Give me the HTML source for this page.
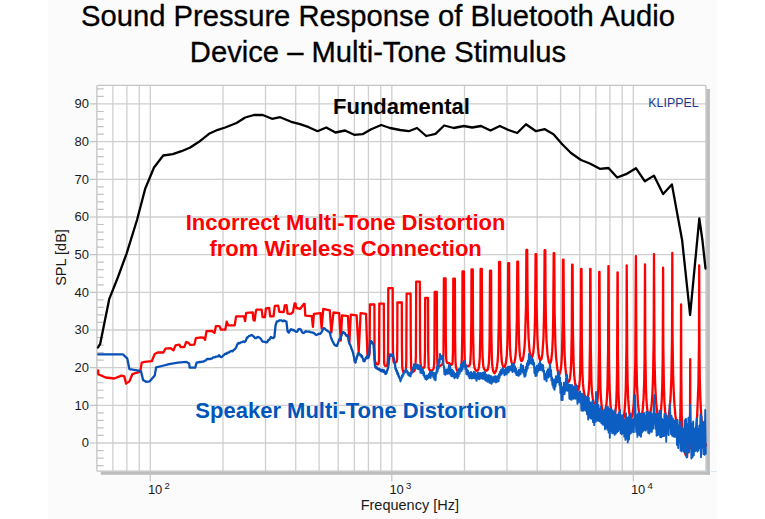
<!DOCTYPE html>
<html><head><meta charset="utf-8"><style>
html,body{margin:0;padding:0;background:#fff;width:765px;height:519px;overflow:hidden}
svg{display:block;font-family:"Liberation Sans",sans-serif}
</style></head><body>
<svg width="765" height="519" viewBox="0 0 765 519">
<rect x="48" y="0" width="669" height="519" fill="#fbfbfb"/><rect x="96.9" y="85.4" width="609.1" height="385.79999999999995" fill="#ffffff"/><rect x="706.3" y="89" width="3.6" height="385.8" fill="#bdbdbd"/><rect x="100.8" y="471.5" width="609.1" height="3.3" fill="#bdbdbd"/><path d="M711 471.5H717" stroke="#d5e6f5" stroke-width="1"/><path d="M96.9 443.00H706.0M96.9 405.33H706.0M96.9 367.66H706.0M96.9 329.99H706.0M96.9 292.32H706.0M96.9 254.65H706.0M96.9 216.98H706.0M96.9 179.31H706.0M96.9 141.64H706.0M96.9 103.97H706.0M112.89 85.4V471.2M126.90 85.4V471.2M139.25 85.4V471.2M150.30 85.4V471.2M223.00 85.4V471.2M265.52 85.4V471.2M295.70 85.4V471.2M319.10 85.4V471.2M338.22 85.4V471.2M354.39 85.4V471.2M368.40 85.4V471.2M380.75 85.4V471.2M391.80 85.4V471.2M464.50 85.4V471.2M507.02 85.4V471.2M537.20 85.4V471.2M560.60 85.4V471.2M579.72 85.4V471.2M595.89 85.4V471.2M609.90 85.4V471.2M622.25 85.4V471.2M633.30 85.4V471.2" stroke="#cfcfcf" stroke-width="1.3" fill="none"/><path d="M96.9 465.60H103.7M96.9 458.07H103.7M96.9 450.53H103.7M96.9 435.47H103.7M96.9 427.93H103.7M96.9 420.40H103.7M96.9 412.86H103.7M96.9 397.80H103.7M96.9 390.26H103.7M96.9 382.73H103.7M96.9 375.19H103.7M96.9 360.13H103.7M96.9 352.59H103.7M96.9 345.06H103.7M96.9 337.52H103.7M96.9 322.46H103.7M96.9 314.92H103.7M96.9 307.39H103.7M96.9 299.85H103.7M96.9 284.79H103.7M96.9 277.25H103.7M96.9 269.72H103.7M96.9 262.18H103.7M96.9 247.12H103.7M96.9 239.58H103.7M96.9 232.05H103.7M96.9 224.51H103.7M96.9 209.45H103.7M96.9 201.91H103.7M96.9 194.38H103.7M96.9 186.84H103.7M96.9 171.78H103.7M96.9 164.24H103.7M96.9 156.71H103.7M96.9 149.17H103.7M96.9 134.11H103.7M96.9 126.57H103.7M96.9 119.04H103.7M96.9 111.50H103.7M96.9 96.44H103.7M96.9 88.90H103.7" stroke="#c2c2c2" stroke-width="1.2" fill="none"/><path d="M90 443.00H96.9M90 405.33H96.9M90 367.66H96.9M90 329.99H96.9M90 292.32H96.9M90 254.65H96.9M90 216.98H96.9M90 179.31H96.9M90 141.64H96.9M90 103.97H96.9M150.30 471.2V481.5M391.80 471.2V481.5M633.30 471.2V481.5" stroke="#c2c2c2" stroke-width="1.2" fill="none"/><rect x="96.9" y="85.4" width="609.1" height="385.79999999999995" rx="1" stroke="#c4c4c4" stroke-width="1.3" fill="none"/><g fill="none" stroke-linejoin="round" stroke-linecap="round"><path d="M98.2 370.5 L98.3 374.2 L105.6 377.5 L114.2 378.5 L121.5 375.6 L124.3 376.4 L126.1 383.6 L129.4 381.4 L132.3 374.2 L140.2 371.7 L141.7 362.6 L144.6 361.9 L151.8 361.2 L154.7 354.0 L157.6 352.5 L163.4 352.5 L165.5 348.6 L170.6 348.2 L173.5 350.3 L175.6 345.3 L179.3 344.6 L180.7 347.2 L184.3 347.2 L186.2 342.0 L188.7 342.8 L190.1 344.9 L194.4 344.6 L195.9 338.1 L200.9 337.3 L203.6 337.6 L205.1 339.8 L206.5 331.1 L211.6 330.8 L214.5 332.9 L215.9 326.1 L219.5 326.1 L221.0 329.7 L225.3 329.7 L226.7 321.7 L228.2 325.3 L234.7 325.3 L236.1 316.4 L244.1 316.4 L245.1 321.0 L246.2 312.8 L252.7 312.3 L253.5 320.2 L254.7 320.6 L255.6 313.0 L256.4 309.6 L261.6 309.6 L262.6 317.0 L265.0 317.2 L265.9 308.4 L269.2 308.0 L270.2 316.4 L273.5 316.4 L274.8 306.0 L278.2 305.6 L279.3 311.8 L283.7 312.0 L284.8 305.3 L286.5 305.1 L287.6 313.6 L290.8 313.8 L293.0 312.0 L294.6 303.3 L295.4 303.3 L296.3 308.0 L300.2 308.8 L303.8 304.0 L304.6 304.0 L305.3 315.6 L311.8 316.1 L312.9 326.9 L313.9 313.9 L320.5 313.2 L321.6 328.4 L323.3 308.8 L329.8 310.3 L331.3 332.7 L333.5 312.5 L339.2 313.2 L340.7 340.6 L342.1 315.3 L347.9 316.1 L349.4 342.8 L350.8 314.6 L356.6 315.3 L358.7 352.2 L360.6 313.2 L366.0 313.9 L367.4 354.4 L367.4 354.7 L368.6 355.8 L369.1 355.9 L369.6 353.3 L369.9 304.3 L374.4 304.5 L374.5 347.7 L374.8 359.3 L375.1 361.7 L376.1 363.4 L376.9 364.1 L377.4 364.3 L378.1 364.3 L378.6 363.5 L379.0 359.9 L379.1 351.8 L379.3 303.6 L383.8 303.6 L384.1 361.9 L384.4 364.7 L385.0 365.8 L386.0 366.1 L386.8 365.5 L387.3 364.6 L387.8 360.3 L388.1 350.0 L388.3 288.2 L392.7 288.2 L392.9 344.6 L393.1 356.5 L393.4 361.0 L394.0 362.7 L394.8 362.8 L395.8 362.5 L396.5 361.8 L396.8 361.2 L397.1 358.9 L397.3 344.1 L397.4 302.3 L401.8 302.5 L401.9 346.2 L402.2 366.3 L402.6 369.7 L403.4 372.1 L403.6 372.4 L404.1 372.4 L404.9 372.2 L405.4 371.7 L405.8 370.5 L406.0 368.6 L406.3 360.7 L406.6 293.6 L410.6 293.6 L410.8 346.9 L411.1 367.1 L411.5 370.5 L412.1 371.9 L412.6 372.1 L413.1 371.9 L414.4 370.8 L415.1 368.8 L415.4 366.8 L415.9 356.2 L416.2 281.6 L419.8 281.6 L420.1 348.9 L420.4 361.5 L420.9 365.9 L421.3 366.8 L422.0 367.5 L423.5 368.0 L424.2 367.6 L424.6 365.9 L425.0 350.7 L425.2 298.0 L428.0 298.0 L428.2 351.1 L428.6 366.4 L428.8 368.4 L429.3 369.6 L430.1 370.4 L431.6 370.9 L433.1 369.7 L433.8 367.8 L434.2 363.1 L434.4 354.1 L434.7 292.0 L436.8 292.0 L437.0 348.8 L437.4 364.1 L437.7 366.0 L438.3 366.6 L439.5 366.3 L441.9 364.8 L442.6 363.7 L443.0 361.6 L443.5 353.2 L443.9 278.3 L445.6 278.3 L445.8 338.5 L446.2 358.8 L446.6 361.6 L447.1 362.8 L447.7 363.1 L449.0 363.0 L451.0 364.7 L451.8 364.8 L452.3 363.9 L452.6 361.9 L453.0 351.8 L453.3 278.7 L454.9 278.7 L455.1 340.2 L455.5 361.6 L455.9 366.6 L456.6 369.4 L457.9 371.7 L458.1 371.8 L459.1 371.1 L460.4 369.3 L461.0 367.5 L461.4 364.6 L461.8 359.5 L462.3 332.8 L462.5 271.5 L463.9 271.5 L464.2 332.6 L464.7 359.5 L465.1 363.7 L465.8 365.7 L466.5 366.2 L467.5 365.9 L468.5 366.2 L469.2 365.9 L469.9 364.7 L470.3 362.2 L470.9 350.3 L471.3 322.8 L471.5 269.3 L472.8 269.3 L473.0 329.6 L473.6 358.3 L474.0 364.6 L474.7 368.1 L475.4 369.7 L476.1 370.7 L476.6 371.0 L477.4 370.7 L478.4 369.3 L479.0 367.0 L479.8 357.6 L480.4 328.5 L480.6 269.0 L481.8 269.0 L482.2 341.6 L482.6 356.3 L483.2 365.2 L483.6 367.6 L484.2 369.2 L485.0 370.0 L486.2 370.5 L487.0 370.5 L487.7 369.5 L488.1 368.4 L488.8 363.7 L489.3 353.5 L489.6 338.3 L490.0 270.7 L491.1 270.7 L491.3 329.3 L491.8 356.9 L492.2 364.6 L492.8 369.3 L493.5 371.9 L494.3 373.0 L494.5 373.2 L494.8 373.0 L496.0 370.9 L496.9 366.9 L497.6 361.6 L498.1 353.9 L498.8 321.5 L499.1 261.8 L500.1 261.8 L500.6 332.3 L501.1 351.1 L501.8 361.6 L502.4 364.6 L503.1 366.4 L503.9 366.9 L504.6 366.5 L505.1 365.6 L505.9 362.5 L506.8 355.4 L507.4 343.1 L507.8 324.6 L508.2 263.2 L509.1 263.2 L509.4 316.7 L510.0 347.0 L510.5 355.6 L511.2 360.8 L511.6 362.5 L512.4 364.1 L512.9 364.3 L513.4 364.3 L514.4 362.6 L515.2 358.3 L515.8 352.8 L516.2 345.4 L516.9 317.9 L517.3 261.6 L518.1 261.6 L518.5 314.1 L519.0 340.3 L519.5 349.8 L520.0 355.9 L520.7 359.6 L521.2 360.9 L521.7 361.1 L522.2 360.5 L522.7 359.4 L523.5 356.2 L524.4 348.3 L525.1 337.7 L526.0 305.3 L526.4 249.8 L527.2 249.8 L527.5 293.1 L527.9 318.7 L528.6 338.5 L529.5 350.5 L530.6 356.3 L531.3 357.7 L531.8 357.9 L532.1 357.6 L533.2 353.1 L534.0 345.2 L534.6 333.0 L535.1 315.1 L535.6 254.1 L536.3 254.1 L536.6 305.1 L537.4 337.0 L537.9 346.9 L538.6 353.9 L539.4 358.5 L539.9 359.7 L540.2 360.0 L540.7 360.1 L541.2 359.4 L541.7 357.9 L542.4 353.4 L543.5 337.7 L544.2 306.6 L544.6 250.2 L545.3 250.2 L545.5 292.5 L545.9 321.3 L546.5 341.2 L547.5 354.2 L548.7 361.6 L549.4 363.2 L550.2 363.4 L550.9 362.0 L551.3 359.8 L552.2 351.4 L552.8 338.4 L553.2 318.6 L553.7 253.1 L554.3 253.1 L554.6 311.5 L555.4 344.3 L556.1 357.7 L557.3 368.5 L558.0 372.0 L559.0 373.8 L559.5 373.8 L560.0 373.0 L560.8 369.3 L561.5 362.7 L562.0 353.1 L562.7 320.7 L563.0 259.6 L563.5 259.6 L563.9 320.8 L564.6 354.7 L565.3 366.4 L566.3 376.3 L567.3 380.3 L568.3 381.9 L568.8 381.8 L569.3 381.0 L570.1 377.4 L570.7 371.1 L571.2 362.1 L571.8 329.8 L572.1 264.7 L572.6 264.7 L572.9 329.9 L573.6 363.9 L574.2 375.1 L575.0 382.4 L575.9 387.8 L576.7 389.7 L577.4 390.5 L577.9 390.4 L578.5 389.5 L579.2 386.0 L579.8 379.9 L580.2 370.0 L580.8 333.6 L581.1 268.9 L581.5 268.9 L581.8 339.3 L582.4 373.3 L583.0 383.9 L583.7 391.0 L584.8 396.4 L585.6 397.9 L586.3 398.6 L587.1 398.5 L587.6 397.7 L588.3 394.8 L588.9 389.0 L589.4 379.4 L590.0 340.9 L590.2 270.7 L590.2 269.0 L590.5 269.0 L590.8 347.3 L591.4 381.2 L591.9 391.3 L592.7 398.2 L593.7 402.6 L594.7 404.6 L595.4 405.3 L596.2 405.3 L596.6 404.5 L597.4 401.2 L598.0 394.7 L598.4 384.2 L599.0 349.6 L599.2 271.8 L599.5 271.8 L599.8 349.6 L600.4 386.3 L600.9 398.3 L601.7 406.1 L602.7 411.2 L603.4 412.9 L604.2 413.2 L604.9 412.4 L605.4 411.0 L606.3 406.0 L607.0 397.2 L607.5 385.2 L608.1 349.7 L608.4 266.1 L608.6 266.1 L609.0 363.4 L609.6 388.4 L610.5 405.1 L611.8 414.7 L612.8 417.6 L613.3 418.2 L613.8 418.2 L614.5 417.2 L615.2 413.9 L616.2 403.6 L616.7 389.1 L617.1 366.3 L617.5 272.5 L617.7 272.5 L617.9 349.1 L618.5 392.8 L619.1 405.8 L619.8 414.0 L620.6 419.5 L621.4 421.4 L622.1 421.8 L622.9 420.9 L623.6 418.4 L624.5 412.0 L625.2 402.4 L625.8 387.7 L626.5 344.9 L626.7 265.3 L627.2 356.7 L627.6 382.0 L628.2 399.4 L629.2 412.3 L629.8 416.1 L630.6 418.1 L631.1 418.3 L631.3 418.1 L632.3 415.2 L632.8 412.5 L633.7 404.1 L634.7 385.7 L635.3 360.5 L635.9 256.1 L636.4 357.0 L637.0 385.7 L638.0 403.9 L638.9 411.7 L639.4 414.6 L640.2 416.7 L640.7 417.2 L641.2 417.0 L641.7 416.0 L642.7 410.0 L643.6 397.5 L644.2 381.7 L644.6 357.6 L645.0 264.3 L645.3 346.7 L645.9 385.4 L646.4 399.3 L647.1 408.3 L648.0 414.2 L648.5 415.4 L648.8 415.7 L649.3 415.7 L650.0 414.5 L650.5 412.7 L651.6 405.2 L652.4 393.5 L653.0 378.3 L653.7 338.1 L654.0 254.2 L654.5 356.6 L655.1 383.1 L656.1 402.3 L657.5 414.6 L658.3 417.5 L658.8 418.5 L659.3 418.8 L660.0 417.7 L660.8 413.0 L661.7 401.2 L662.3 383.9 L662.7 358.3 L663.1 267.7 L663.3 346.1 L663.9 387.8 L664.4 401.4 L665.1 411.4 L666.1 418.6 L666.6 420.0 L667.1 420.4 L667.9 419.4 L668.4 417.7 L669.6 409.3 L670.6 396.7 L671.3 379.9 L672.0 339.4 L672.3 252.9 L672.5 333.0 L673.1 374.6 L673.7 390.8 L674.4 403.5 L675.3 414.9 L676.6 424.2 L677.8 429.9 L678.5 431.5 L678.8 431.8 L679.0 431.7 L679.4 430.7 L679.7 428.7 L680.2 420.7 L680.8 385.4 L681.1 304.4 L681.3 378.0 L681.7 414.8 L682.4 432.1 L683.1 439.0 L684.1 443.9 L684.4 451.6 L685.6 454.8 L687.1 456.9 L687.4 452.2 L688.3 451.8 L689.0 450.8 L689.6 446.5 L690.0 422.5 L690.2 359.2 L690.3 422.4 L690.7 445.6 L690.9 447.5 L691.3 448.4 L691.8 448.1 L692.5 446.9 L693.1 445.3 L694.0 442.1 L695.2 435.1 L696.3 425.9 L697.2 414.5 L698.4 384.3 L699.0 342.6 L699.2 265.3 L699.5 355.2 L699.8 379.7 L700.4 399.2 L701.3 416.5 L702.5 429.5 L704.0 438.7 L706.0 445.7" stroke="#ff0000" stroke-width="2.3"/><path d="M400.0 379.2 L401.0 379.3 L402.0 376.8 L403.0 374.5 L404.0 372.8 L405.0 371.1 L406.0 369.7 L407.0 371.2 L408.0 372.7 L409.0 374.2 L410.0 375.6 L411.0 373.8 L412.0 371.5 L413.0 369.3 L414.0 367.0 L415.0 366.4 L416.0 366.4 L417.0 366.4 L418.0 366.8 L419.0 367.6 L420.0 368.4 L421.0 369.2 L422.0 370.4 L423.0 372.4 L424.0 374.5 L425.0 376.5 L426.0 378.2 L427.0 377.3 L428.0 376.4 L429.0 375.4 L430.0 374.5 L431.0 373.6 L432.0 373.3 L433.0 374.3 L434.0 375.3 L435.0 376.3 L436.0 373.9 L437.0 370.0 L438.0 366.2 L439.0 362.3 L440.0 358.5 L441.0 356.9 L442.0 356.2 L443.0 359.8 L444.0 367.6 L445.0 372.7 L446.0 371.5 L447.0 370.4 L448.0 369.3 L449.0 368.1 L450.0 369.3 L451.0 370.4 L452.0 371.6 L453.0 372.7 L454.0 373.9 L455.0 374.6 L456.0 373.7 L457.0 372.8 L458.0 371.9 L459.0 371.1 L460.0 369.5 L461.0 367.9 L462.0 366.4 L463.0 364.8 L464.0 363.2 L465.0 364.8 L466.0 367.1 L467.0 369.5 L468.0 371.9 L469.0 374.3 L470.0 374.6 L471.0 374.4 L472.0 374.1 L473.0 373.9 L474.0 374.0 L475.0 374.4 L476.0 374.9 L477.0 375.3 L478.0 375.7 L479.0 375.2 L480.0 374.8 L481.0 374.4 L482.0 373.9 L483.0 374.2 L484.0 374.9 L485.0 375.6 L486.0 376.2 L487.0 376.9 L488.0 377.6 L489.0 378.4 L490.0 379.1 L491.0 379.8 L492.0 379.4 L493.0 379.0 L494.0 378.6 L495.0 378.2 L496.0 377.8 L497.0 377.1 L498.0 375.9 L499.0 374.6 L500.0 373.3 L501.0 372.0 L502.0 370.8 L503.0 370.1 L504.0 369.9 L505.0 369.8 L506.0 369.7 L507.0 369.6 L508.0 369.4 L509.0 368.8 L510.0 367.9 L511.0 367.0 L512.0 366.0 L513.0 365.1 L514.0 366.1 L515.0 367.8 L516.0 369.5 L517.0 371.2 L518.0 372.9 L519.0 372.4 L520.0 370.4 L521.0 368.4 L522.0 367.2 L523.0 368.9 L524.0 370.7 L525.0 371.0 L526.0 367.9 L527.0 364.8 L528.0 361.8 L529.0 358.7 L530.0 359.0 L531.0 359.4 L532.0 359.7 L533.0 360.1 L534.0 365.9 L535.0 372.1 L536.0 370.8 L537.0 369.5 L538.0 368.2 L539.0 366.9 L540.0 366.4 L541.0 366.0 L542.0 365.6 L543.0 366.8 L544.0 372.0 L545.0 376.4 L546.0 374.9 L547.0 373.4 L548.0 371.9 L549.0 370.4 L550.0 368.9 L551.0 373.4 L552.0 378.0 L553.0 382.5 L554.0 384.3 L555.0 381.9 L556.0 379.5 L557.0 377.1 L558.0 375.4 L559.0 379.8 L560.0 384.2 L561.0 388.6 L562.0 393.1 L563.0 391.5 L564.0 388.5 L565.0 385.5 L566.0 382.5 L567.0 382.0 L568.0 385.1 L569.0 388.2 L570.0 391.3 L571.0 394.0 L572.0 392.8 L573.0 391.6 L574.0 390.4 L575.0 389.3 L576.0 390.3 L577.0 391.8 L578.0 393.3 L579.0 394.9 L580.0 396.5 L581.0 398.1 L582.0 399.7 L583.0 401.4 L584.0 403.0 L585.0 404.1 L586.0 405.3 L587.0 406.4 L588.0 407.6 L589.0 408.7 L590.0 409.9 L591.0 410.4 L592.0 411.0 L593.0 411.6 L594.0 412.1 L595.0 412.7 L596.0 413.2 L597.0 413.8 L598.0 414.4 L599.0 414.9 L600.0 415.5 L601.0 416.1 L602.0 416.8 L603.0 417.4 L604.0 418.1 L605.0 418.8 L606.0 419.4 L607.0 420.1 L608.0 420.7 L609.0 421.4 L610.0 422.0 L611.0 421.9 L612.0 421.7 L613.0 421.6 L614.0 421.4 L615.0 421.3 L616.0 421.1 L617.0 421.0 L618.0 421.6 L619.0 422.3 L620.0 422.9 L621.0 423.6 L622.0 424.2 L623.0 424.9 L624.0 425.5 L625.0 426.1 L626.0 426.7 L627.0 427.3 L628.0 427.9 L629.0 428.5 L630.0 427.7 L631.0 426.8 L632.0 426.0 L633.0 425.2 L634.0 424.3 L635.0 423.5 L636.0 423.7 L637.0 423.8 L638.0 424.0 L639.0 424.2 L640.0 424.3 L641.0 424.5 L642.0 424.3 L643.0 424.1 L644.0 423.9 L645.0 423.8 L646.0 423.6 L647.0 423.4 L648.0 423.2 L649.0 423.0 L650.0 422.7 L651.0 422.4 L652.0 422.1 L653.0 421.8 L654.0 421.5 L655.0 422.2 L656.0 422.8 L657.0 423.5 L658.0 424.2 L659.0 424.8 L660.0 425.5 L661.0 426.7 L662.0 427.8 L663.0 429.0 L664.0 428.5 L665.0 428.0 L666.0 427.5 L667.0 427.0 L668.0 426.5 L669.0 426.0 L670.0 425.5 L671.0 426.3 L672.0 427.2 L673.0 428.0 L674.0 428.8 L675.0 429.7 L676.0 430.5 L677.0 432.0 L678.0 433.5 L679.0 435.0 L680.0 436.5 L681.0 437.1 L682.0 437.7 L683.0 438.3 L684.0 438.9 L685.0 439.5 L686.0 439.4 L687.0 439.3 L688.0 439.2 L689.0 439.1 L690.0 439.0 L691.0 439.6 L692.0 440.2 L693.0 440.9 L694.0 441.5 L695.0 440.9 L696.0 440.3 L697.0 439.8 L698.0 439.2 L699.0 438.6 L700.0 438.0 L701.0 436.8 L702.0 435.5 L703.0 434.2 L704.0 433.0 L705.0 433.2 L706.0 433.5 L706.0 433.5 L705.0 433.2 L704.0 433.0 L703.0 434.2 L702.0 435.5 L701.0 436.8 L700.0 438.0 L699.0 438.6 L698.0 439.2 L697.0 439.8 L696.0 440.3 L695.0 440.9 L694.0 441.5 L693.0 440.9 L692.0 440.2 L691.0 439.6 L690.0 439.0 L689.0 439.1 L688.0 439.2 L687.0 439.3 L686.0 439.4 L685.0 439.5 L684.0 438.9 L683.0 438.3 L682.0 437.7 L681.0 437.1 L680.0 436.5 L679.0 435.0 L678.0 433.5 L677.0 432.0 L676.0 430.5 L675.0 429.7 L674.0 428.8 L673.0 428.0 L672.0 427.2 L671.0 426.3 L670.0 425.5 L669.0 426.0 L668.0 426.5 L667.0 427.0 L666.0 427.5 L665.0 428.0 L664.0 428.5 L663.0 429.0 L662.0 427.8 L661.0 426.7 L660.0 425.5 L659.0 424.8 L658.0 424.2 L657.0 423.5 L656.0 422.8 L655.0 422.2 L654.0 421.5 L653.0 421.8 L652.0 422.1 L651.0 422.4 L650.0 422.7 L649.0 423.0 L648.0 423.2 L647.0 423.4 L646.0 423.6 L645.0 423.8 L644.0 423.9 L643.0 424.1 L642.0 424.3 L641.0 424.5 L640.0 424.3 L639.0 424.2 L638.0 424.0 L637.0 423.8 L636.0 423.7 L635.0 423.5 L634.0 424.3 L633.0 425.2 L632.0 426.0 L631.0 426.8 L630.0 427.7 L629.0 428.5 L628.0 427.9 L627.0 427.3 L626.0 426.7 L625.0 426.1 L624.0 425.5 L623.0 424.9 L622.0 424.2 L621.0 423.6 L620.0 422.9 L619.0 422.3 L618.0 421.6 L617.0 421.0 L616.0 421.1 L615.0 421.3 L614.0 421.4 L613.0 421.6 L612.0 421.7 L611.0 421.9 L610.0 422.0 L609.0 421.4 L608.0 420.7 L607.0 420.1 L606.0 419.4 L605.0 418.8 L604.0 418.1 L603.0 417.4 L602.0 416.8 L601.0 416.1 L600.0 415.5 L599.0 415.1 L598.0 414.6 L597.0 414.2 L596.0 413.8 L595.0 413.3 L594.0 412.9 L593.0 412.4 L592.0 412.0 L591.0 411.6 L590.0 411.1 L589.0 410.1 L588.0 409.1 L587.0 408.1 L586.0 407.0 L585.0 406.0 L584.0 405.0 L583.0 403.4 L582.0 401.8 L581.0 400.2 L580.0 398.6 L579.0 397.1 L578.0 395.6 L577.0 394.1 L576.0 392.6 L575.0 391.6 L574.0 392.9 L573.0 394.1 L572.0 395.3 L571.0 396.5 L570.0 393.9 L569.0 390.8 L568.0 387.8 L567.0 384.7 L566.0 385.3 L565.0 388.3 L564.0 391.4 L563.0 394.4 L562.0 396.0 L561.0 391.6 L560.0 387.2 L559.0 382.8 L558.0 378.3 L557.0 380.0 L556.0 382.4 L555.0 384.8 L554.0 387.2 L553.0 385.4 L552.0 380.9 L551.0 376.3 L550.0 371.7 L549.0 373.2 L548.0 374.7 L547.0 376.2 L546.0 377.8 L545.0 379.3 L544.0 374.8 L543.0 369.6 L542.0 368.4 L541.0 368.7 L540.0 369.1 L539.0 369.6 L538.0 370.9 L537.0 372.2 L536.0 373.5 L535.0 374.8 L534.0 368.5 L533.0 362.7 L532.0 362.4 L531.0 362.0 L530.0 361.7 L529.0 361.3 L528.0 364.4 L527.0 367.4 L526.0 370.5 L525.0 373.6 L524.0 373.2 L523.0 371.5 L522.0 369.7 L521.0 370.9 L520.0 372.9 L519.0 374.9 L518.0 375.4 L517.0 373.7 L516.0 371.9 L515.0 370.2 L514.0 368.5 L513.0 367.6 L512.0 368.5 L511.0 369.4 L510.0 370.3 L509.0 371.2 L508.0 371.8 L507.0 372.0 L506.0 372.1 L505.0 372.2 L504.0 372.3 L503.0 372.4 L502.0 373.1 L501.0 374.4 L500.0 375.7 L499.0 376.9 L498.0 378.2 L497.0 379.5 L496.0 380.1 L495.0 380.5 L494.0 380.9 L493.0 381.3 L492.0 381.7 L491.0 382.1 L490.0 381.4 L489.0 380.6 L488.0 379.8 L487.0 379.2 L486.0 378.5 L485.0 377.8 L484.0 377.2 L483.0 376.5 L482.0 376.1 L481.0 376.6 L480.0 377.0 L479.0 377.4 L478.0 377.9 L477.0 377.5 L476.0 377.1 L475.0 376.6 L474.0 376.2 L473.0 376.1 L472.0 376.3 L471.0 376.5 L470.0 376.7 L469.0 376.4 L468.0 374.0 L467.0 371.6 L466.0 369.2 L465.0 366.9 L464.0 365.3 L463.0 366.9 L462.0 368.4 L461.0 370.0 L460.0 371.6 L459.0 373.1 L458.0 374.0 L457.0 374.9 L456.0 375.8 L455.0 376.6 L454.0 375.9 L453.0 374.7 L452.0 373.6 L451.0 372.4 L450.0 371.3 L449.0 370.1 L448.0 371.2 L447.0 372.3 L446.0 373.3 L445.0 374.4 L444.0 369.3 L443.0 361.4 L442.0 357.8 L441.0 358.4 L440.0 360.0 L439.0 363.8 L438.0 367.6 L437.0 371.4 L436.0 375.2 L435.0 377.5 L434.0 376.5 L433.0 375.4 L432.0 374.4 L431.0 374.7 L430.0 375.5 L429.0 376.4 L428.0 377.3 L427.0 378.1 L426.0 379.0 L425.0 377.2 L424.0 375.2 L423.0 373.1 L422.0 371.0 L421.0 369.7 L420.0 368.9 L419.0 368.1 L418.0 367.3 L417.0 366.8 L416.0 366.8 L415.0 366.8 L414.0 367.5 L413.0 369.7 L412.0 372.0 L411.0 374.2 L410.0 376.1 L409.0 374.6 L408.0 373.1 L407.0 371.6 L406.0 370.2 L405.0 371.5 L404.0 373.2 L403.0 374.9 L402.0 377.2 L401.0 379.7 L400.0 379.5Z" fill="#0d5ec2" stroke="none"/><path d="M98.2 354.4 L122.9 354.4 L127.2 358.3 L129.4 369.1 L137.4 370.3 L141.0 371.3 L143.1 380.0 L146.0 381.8 L149.6 381.4 L154.7 375.6 L156.1 367.4 L161.9 366.0 L169.1 364.1 L177.8 362.6 L186.5 361.9 L189.1 363.4 L189.7 367.7 L195.2 367.7 L196.6 362.6 L200.0 362.0 L201.2 361.8 L202.4 361.6 L203.6 361.5 L204.8 360.7 L206.0 360.2 L207.2 358.8 L208.4 359.0 L209.6 359.2 L210.8 358.6 L212.0 358.5 L213.2 357.3 L214.4 357.4 L215.6 356.7 L216.8 356.7 L218.0 356.3 L219.2 355.2 L220.4 356.9 L221.6 357.1 L222.8 356.0 L224.0 354.9 L225.2 353.7 L226.4 353.9 L227.6 352.6 L228.8 352.7 L230.0 351.6 L231.2 350.9 L232.4 351.4 L233.6 350.0 L234.8 349.3 L236.0 347.6 L237.2 344.7 L238.4 342.9 L239.6 343.3 L240.8 342.4 L242.0 342.2 L243.2 341.4 L244.4 342.0 L245.6 341.1 L246.8 338.0 L248.0 337.0 L249.2 335.9 L250.4 335.6 L251.6 334.9 L252.8 335.7 L254.0 336.9 L255.2 338.1 L256.4 338.0 L257.6 336.9 L258.8 337.3 L260.0 337.8 L261.2 339.5 L262.4 341.5 L263.6 341.6 L264.8 341.8 L266.0 342.5 L267.2 342.1 L268.4 339.9 L269.6 339.6 L270.8 337.0 L272.0 337.9 L273.2 338.0 L274.4 337.0 L275.6 325.2 L276.8 321.4 L278.0 321.4 L279.2 320.5 L280.4 320.3 L281.6 320.4 L282.8 321.3 L284.0 320.5 L285.2 321.2 L286.4 321.5 L287.6 331.5 L288.8 332.6 L290.0 330.5 L291.2 329.1 L292.4 330.0 L293.6 329.8 L294.8 331.1 L296.0 331.8 L297.2 331.7 L298.4 329.3 L299.6 328.9 L300.8 329.6 L302.0 332.1 L303.2 333.0 L304.4 332.6 L305.6 331.1 L306.8 331.7 L308.0 331.6 L309.2 331.7 L310.4 332.1 L311.6 332.3 L312.8 332.6 L314.0 333.1 L315.2 334.2 L316.4 335.0 L317.6 334.5 L318.8 333.6 L320.0 334.0 L321.2 332.7 L322.4 330.5 L323.6 328.2 L324.8 328.4 L326.0 329.9 L327.2 330.6 L328.4 331.6 L329.6 332.0 L330.8 336.8 L332.0 340.0 L333.2 342.4 L334.4 344.6 L335.6 345.6 L336.8 346.0 L338.0 343.0 L339.2 339.3 L340.0 339.2 L340.5 338.2 L341.0 336.4 L341.5 335.7 L342.0 333.3 L342.5 332.7 L343.0 332.0 L343.5 332.8 L344.0 332.5 L344.5 333.5 L345.0 333.3 L345.5 334.6 L346.0 334.8 L346.5 336.0 L347.0 335.1 L347.5 335.7 L348.0 336.2 L348.5 340.2 L349.0 342.3 L349.5 344.0 L350.0 344.3 L350.5 345.9 L351.0 346.8 L351.5 348.9 L352.0 349.5 L352.5 351.6 L353.0 352.2 L353.5 355.3 L354.0 356.9 L354.5 360.6 L355.0 362.1 L355.5 362.5 L356.0 359.5 L356.5 358.9 L357.0 356.4 L357.5 355.9 L358.0 353.4 L358.5 353.7 L359.0 353.2 L359.5 354.4 L360.0 354.3 L360.5 355.4 L361.0 355.0 L361.5 356.7 L362.0 356.0 L362.5 357.9 L363.0 358.6 L363.5 361.1 L364.0 361.1 L364.5 361.3 L365.0 359.7 L365.5 359.1 L366.0 357.4 L366.5 357.6 L367.0 356.3 L367.5 358.1 L368.0 356.7 L368.5 357.8 L369.0 354.4 L369.5 350.0 L370.0 343.7 L370.5 341.9 L371.0 341.1 L371.5 342.9 L372.0 341.8 L372.5 343.7 L373.0 343.1 L373.5 344.5 L374.0 351.3 L374.5 359.9 L375.0 365.8 L375.5 367.5 L376.0 366.6 L376.5 368.2 L377.0 367.4 L377.5 368.9 L378.0 368.6 L378.5 369.6 L379.0 368.7 L379.5 369.8 L380.0 369.5 L380.5 370.8 L381.0 370.0 L381.5 371.3 L382.0 369.9 L382.5 371.2 L383.0 370.0 L383.5 371.9 L384.0 370.4 L384.5 372.1 L385.0 371.9 L385.5 373.9 L386.0 373.7 L386.5 373.1 L387.0 370.4 L387.5 370.1 L388.0 368.0 L388.5 365.6 L389.0 360.3 L389.5 357.2 L390.0 354.3 L390.5 355.5 L391.0 354.8 L391.5 355.8 L392.0 354.7 L392.5 356.0 L393.0 354.5 L393.5 356.9 L394.0 359.0 L394.5 363.1 L395.0 364.2 L395.5 368.8 L396.0 368.9 L396.5 371.3 L397.0 370.8 L397.5 374.1 L398.0 373.2 L398.5 376.0 L399.0 376.2 L399.5 378.3 L400.0 378.8" stroke="#0850b6" stroke-width="2.3"/><path d="M400.0 378.8 L400.5 381.4 L401.0 378.3 L401.5 378.6 L402.0 375.5 L402.5 376.8 L403.0 374.0 L403.5 374.7 L404.0 371.7 L404.5 372.5 L405.0 370.8 L405.5 371.4 L406.0 369.0 L406.5 371.4 L407.0 370.8 L407.5 373.2 L408.0 372.2 L408.5 375.0 L409.0 373.1 L409.5 375.7 L410.0 375.3 L410.5 376.3 L411.0 372.3 L411.5 373.8 L412.0 371.2 L412.5 371.2 L413.0 367.6 L413.5 369.2 L414.0 364.2 L414.5 368.4 L415.0 365.1 L415.5 367.5 L416.0 365.0 L416.5 367.8 L417.0 364.6 L417.5 368.7 L418.0 365.0 L418.5 369.1 L419.0 365.9 L419.5 369.0 L420.0 365.9 L420.5 372.7 L421.0 367.4 L421.5 373.0 L422.0 368.9 L422.5 373.3 L423.0 370.0 L423.5 375.2 L424.0 372.4 L424.5 377.0 L425.0 375.9 L425.5 379.0 L426.0 377.9 L426.5 379.6 L427.0 375.6 L427.5 378.9 L428.0 375.9 L428.5 377.7 L429.0 373.7 L429.5 376.6 L430.0 371.9 L430.5 378.0 L431.0 372.6 L431.5 375.4 L432.0 371.5 L432.5 375.4 L433.0 372.7 L433.5 377.5 L434.0 373.0 L434.5 379.4 L435.0 375.2 L435.5 380.2 L436.0 372.6 L436.5 373.6 L437.0 366.3 L437.5 371.7 L438.0 363.5 L438.5 368.6 L439.0 359.6 L439.5 362.6 L440.0 354.0 L440.5 359.2 L441.0 355.9 L441.5 358.3 L442.0 356.0 L442.5 359.7 L443.0 357.8 L443.5 365.4 L444.0 366.4 L444.5 374.1 L445.0 371.0 L445.5 374.6 L446.0 369.6 L446.5 373.0 L447.0 370.3 L447.5 373.6 L448.0 369.1 L448.5 373.4 L449.0 365.0 L449.5 371.1 L450.0 365.7 L450.5 374.6 L451.0 369.6 L451.5 376.1 L452.0 369.8 L452.5 376.3 L453.0 370.9 L453.5 376.3 L454.0 372.3 L454.5 378.2 L455.0 374.1 L455.5 377.0 L456.0 373.7 L456.5 375.8 L457.0 372.3 L457.5 378.2 L458.0 372.0 L458.5 376.2 L459.0 369.0 L459.5 373.8 L460.0 368.6 L460.5 371.5 L461.0 364.5 L461.5 370.9 L462.0 363.0 L462.5 369.3 L463.0 362.5 L463.5 366.2 L464.0 361.0 L464.5 366.6 L465.0 362.9 L465.5 369.3 L466.0 365.8 L466.5 374.3 L467.0 369.6 L467.5 372.7 L468.0 370.8 L468.5 376.0 L469.0 373.7 L469.5 378.1 L470.0 372.8 L470.5 377.3 L471.0 372.0 L471.5 378.5 L472.0 373.3 L472.5 378.2 L473.0 374.0 L473.5 376.1 L474.0 371.8 L474.5 378.3 L475.0 372.8 L475.5 378.3 L476.0 374.1 L476.5 380.6 L477.0 375.0 L477.5 378.4 L478.0 372.6 L478.5 378.7 L479.0 374.4 L479.5 379.2 L480.0 373.1 L480.5 378.0 L481.0 373.6 L481.5 378.0 L482.0 373.4 L482.5 378.8 L483.0 372.9 L483.5 378.5 L484.0 372.6 L484.5 379.2 L485.0 371.7 L485.5 380.5 L486.0 374.6 L486.5 380.6 L487.0 376.6 L487.5 381.7 L488.0 375.2 L488.5 381.1 L489.0 375.2 L489.5 382.6 L490.0 376.9 L490.5 382.6 L491.0 376.1 L491.5 383.6 L492.0 377.2 L492.5 382.1 L493.0 377.6 L493.5 381.3 L494.0 376.8 L494.5 380.7 L495.0 376.2 L495.5 382.1 L496.0 376.9 L496.5 382.2 L497.0 376.6 L497.5 381.3 L498.0 376.0 L498.5 381.1 L499.0 374.3 L499.5 377.7 L500.0 371.7 L500.5 374.9 L501.0 370.0 L501.5 374.4 L502.0 369.2 L502.5 372.9 L503.0 368.0 L503.5 372.4 L504.0 369.8 L504.5 375.1 L505.0 369.8 L505.5 373.9 L506.0 367.7 L506.5 374.3 L507.0 368.1 L507.5 371.9 L508.0 366.8 L508.5 372.4 L509.0 367.1 L509.5 370.7 L510.0 366.6 L510.5 369.9 L511.0 366.2 L511.5 370.1 L512.0 363.7 L512.5 372.0 L513.0 364.6 L513.5 371.1 L514.0 364.3 L514.5 370.2 L515.0 366.6 L515.5 373.0 L516.0 368.9 L516.5 374.9 L517.0 371.3 L517.5 374.9 L518.0 373.0 L518.5 375.8 L519.0 369.9 L519.5 374.7 L520.0 370.4 L520.5 373.9 L521.0 364.4 L521.5 369.7 L522.0 366.1 L522.5 371.8 L523.0 365.9 L523.5 373.4 L524.0 370.7 L524.5 376.7 L525.0 369.7 L525.5 375.6 L526.0 366.9 L526.5 371.5 L527.0 363.2 L527.5 368.8 L528.0 360.8 L528.5 365.2 L529.0 354.0 L529.5 363.6 L530.0 358.8 L530.5 362.9 L531.0 356.4 L531.5 363.3 L532.0 358.5 L532.5 364.5 L533.0 359.8 L533.5 364.5 L534.0 363.1 L534.5 373.0 L535.0 367.2 L535.5 375.9 L536.0 370.2 L536.5 375.8 L537.0 365.9 L537.5 372.2 L538.0 367.1 L538.5 370.6 L539.0 363.7 L539.5 369.4 L540.0 361.6 L540.5 370.0 L541.0 364.1 L541.5 369.2 L542.0 364.9 L542.5 370.6 L543.0 365.3 L543.5 372.0 L544.0 370.7 L544.5 379.4 L545.0 376.4 L545.5 378.5 L546.0 373.8 L546.5 381.2 L547.0 371.2 L547.5 376.7 L548.0 369.4 L548.5 377.4 L549.0 369.4 L549.5 375.9 L550.0 364.1 L550.5 375.9 L551.0 370.0 L551.5 380.5 L552.0 377.6 L552.5 384.9 L553.0 381.9 L553.5 387.8 L554.0 379.6 L554.5 389.7 L555.0 380.9 L555.5 386.4 L556.0 376.3 L556.5 382.7 L557.0 376.2 L557.5 382.3 L558.0 371.8 L558.5 381.0 L559.0 373.8 L559.5 384.9 L560.0 377.9 L560.5 392.9 L561.0 382.8 L561.5 400.0 L562.0 390.5 L562.5 400.0 L563.0 387.0 L563.5 393.3 L564.0 382.7 L564.5 393.9 L565.0 385.1 L565.5 390.8 L566.0 378.9 L566.5 385.3 L567.0 374.7 L567.5 390.7 L568.0 384.1 L568.5 390.8 L569.0 386.9 L569.5 398.7 L570.0 384.7 L570.5 399.0 L571.0 392.9 L571.5 399.8 L572.0 385.0 L572.5 395.9 L573.0 388.6 L573.5 398.6 L574.0 386.5 L574.5 396.9 L575.0 387.1 L575.5 398.7 L576.0 384.8 L576.5 397.4 L577.0 385.9 L577.5 403.8 L578.0 392.1 L578.5 401.8 L579.0 393.8 L579.5 400.8 L580.0 391.5 L580.5 402.6 L581.0 396.7 L581.5 410.5 L582.0 393.7 L582.5 410.6 L583.0 394.8 L583.5 410.5 L584.0 399.4" stroke="#0d5ec2" stroke-width="2.1"/><path d="M584.0 399.4 L584.6 409.9 L585.2 395.4 L585.8 410.8 L586.4 397.2 L587.0 414.3 L587.6 396.9 L588.2 419.5 L588.8 397.6 L589.4 417.3 L590.0 402.2 L590.6 418.4 L591.2 402.9 L591.8 418.8 L592.4 401.0 L593.0 422.1 L593.6 406.3 L594.2 425.1 L594.8 404.9 L595.4 422.0 L596.0 392.0 L596.6 420.7 L597.2 403.9 L597.8 420.6 L598.4 404.8 L599.0 421.0 L599.6 409.0 L600.2 421.6 L600.8 406.4 L601.4 423.1 L602.0 410.5 L602.6 424.6 L603.2 411.5 L603.8 424.7 L604.4 410.0 L605.0 429.4 L605.6 406.7 L606.2 427.7 L606.8 407.1 L607.4 429.7 L608.0 406.9 L608.6 432.6 L609.2 409.3 L609.8 437.7 L610.4 408.8 L611.0 431.4 L611.6 410.4 L612.2 433.2 L612.8 410.4 L613.4 433.1 L614.0 412.2 L614.6 434.9 L615.2 410.1 L615.8 433.8 L616.4 415.0 L617.0 432.3 L617.6 414.7 L618.2 431.1 L618.8 412.8 L619.4 429.6 L620.0 410.0 L620.6 433.4 L621.2 415.6 L621.8 434.2 L622.4 415.2 L623.0 433.1 L623.6 419.5 L624.2 436.6 L624.8 420.1 L625.4 439.9 L626.0 413.3 L626.6 438.7 L627.2 417.6 L627.8 442.4 L628.4 417.2 L629.0 439.5 L629.6 415.3 L630.2 433.8 L630.8 413.7 L631.4 432.9 L632.0 419.4 L632.6 431.9 L633.2 419.3 L633.8 432.1 L634.4 415.9 L635.0 395.0 L635.6 413.6 L636.2 431.9 L636.8 415.5 L637.4 436.9 L638.0 413.6 L638.6 434.5 L639.2 412.4 L639.8 435.6 L640.4 413.9 L641.0 436.7 L641.6 415.5 L642.2 432.2 L642.8 413.9 L643.4 430.9 L644.0 412.9 L644.6 429.8 L645.2 416.1 L645.8 430.6 L646.4 412.0 L647.0 429.0 L647.6 411.7 L648.2 432.9 L648.8 412.9 L649.4 433.5 L650.0 412.2 L650.6 431.5 L651.2 413.2 L651.8 431.9 L652.4 414.4 L653.0 428.7 L653.6 412.6 L654.2 395.0 L654.8 416.9 L655.4 428.7 L656.0 414.0 L656.6 435.8 L657.2 416.0 L657.8 435.0 L658.4 413.8 L659.0 434.6 L659.6 410.6 L660.2 437.0 L660.8 411.3 L661.4 437.3 L662.0 418.8 L662.6 436.0 L663.2 419.9 L663.8 436.1 L664.4 414.1 L665.0 435.3 L665.6 413.9 L666.2 441.8 L666.8 415.9 L667.4 433.5 L668.0 418.3 L668.6 435.1 L669.2 419.9 L669.8 404.0 L670.4 415.0 L671.0 434.0 L671.6 415.9 L672.2 435.7 L672.8 418.4 L673.4 436.5 L674.0 420.5 L674.6 436.8 L675.2 420.5 L675.8 436.9 L676.4 420.5 L677.0 445.1 L677.6 420.0 L678.2 448.1 L678.8 425.7 L679.4 442.8 L680.0 427.9 L680.6 450.6 L681.2 421.6 L681.8 451.4 L682.4 428.1 L683.0 449.8 L683.6 429.0 L684.2 451.7 L684.8 420.2 L685.4 452.9 L686.0 418.7 L686.6 457.5 L687.2 424.2 L687.8 451.2 L688.4 417.6 L689.0 452.6 L689.6 423.0 L690.2 405.0 L690.8 428.6 L691.4 458.5 L692.0 423.8 L692.6 457.0 L693.2 421.4 L693.8 455.4 L694.4 429.5 L695.0 451.2 L695.6 427.6 L696.2 450.4 L696.8 418.7 L697.4 451.6 L698.0 429.3 L698.6 450.4 L699.2 425.6 L699.8 448.1 L700.4 414.5 L701.0 457.3 L701.6 416.5 L702.2 447.6 L702.8 423.2 L703.4 454.0 L704.0 421.8 L704.6 454.7 L705.2 410.0 L705.8 453.8" stroke="#0d5ec2" stroke-width="1.9"/><path d="M98.0 347.5 L100.2 343.8 L109.2 299.2 L117.8 277.5 L126.5 253.8 L137.0 220.0 L145.2 188.8 L154.0 167.5 L163.2 155.5 L172.8 154.2 L181.5 151.2 L190.2 147.5 L199.0 141.8 L209.0 133.8 L217.8 129.8 L225.2 127.5 L236.5 123.0 L245.2 117.5 L254.0 115.0 L262.8 115.0 L272.0 118.8 L280.2 117.2 L291.2 121.8 L300.0 124.2 L308.8 127.2 L317.5 131.2 L326.2 127.5 L335.5 132.5 L345.0 130.5 L354.2 134.8 L362.5 134.2 L371.2 129.2 L381.2 125.0 L390.0 128.0 L400.0 130.0 L408.8 131.2 L417.0 128.0 L426.2 136.0 L435.5 133.8 L444.2 125.5 L453.8 128.0 L463.8 126.0 L472.2 127.5 L481.0 126.0 L490.5 130.5 L499.8 126.0 L508.5 130.0 L517.2 133.0 L526.0 124.2 L536.0 131.2 L544.8 129.2 L553.5 134.2 L562.2 144.2 L571.0 153.0 L581.0 160.0 L589.8 163.5 L599.8 168.8 L608.5 168.0 L617.2 177.5 L626.0 174.2 L635.9 168.2 L644.9 181.3 L653.9 175.6 L663.1 194.1 L671.9 184.4 L677.0 212.4 L682.1 240.0 L690.1 315.0 L699.3 218.5 L702.4 240.0 L705.5 268.5" stroke="#000" stroke-width="2.3"/></g>
<g fill="#1a1a1a"><text x="89" y="447.4" text-anchor="end" font-size="13">0</text><text x="89" y="409.7" text-anchor="end" font-size="13">10</text><text x="89" y="372.1" text-anchor="end" font-size="13">20</text><text x="89" y="334.4" text-anchor="end" font-size="13">30</text><text x="89" y="296.7" text-anchor="end" font-size="13">40</text><text x="89" y="259.1" text-anchor="end" font-size="13">50</text><text x="89" y="221.4" text-anchor="end" font-size="13">60</text><text x="89" y="183.7" text-anchor="end" font-size="13">70</text><text x="89" y="146.0" text-anchor="end" font-size="13">80</text><text x="89" y="108.4" text-anchor="end" font-size="13">90</text><text x="147.9" y="494" font-size="13">10</text><text x="164.6" y="489" font-size="9.5">2</text><text x="389.4" y="494" font-size="13">10</text><text x="406.1" y="489" font-size="9.5">3</text><text x="630.9" y="494" font-size="13">10</text><text x="647.6" y="489" font-size="9.5">4</text><text x="409.8" y="510" text-anchor="middle" font-size="14.5">Frequency [Hz]</text><text transform="translate(66.2 257.5) rotate(-90)" text-anchor="middle" font-size="14.5">SPL [dB]</text><text x="673.5" y="107" text-anchor="middle" font-size="12.4" fill="#1c3a8c">KLIPPEL</text><text x="401.5" y="113.5" text-anchor="middle" font-size="22" font-weight="bold" fill="#000">Fundamental</text><text x="345.6" y="230.2" text-anchor="middle" font-size="22" font-weight="bold" fill="#ff0000">Incorrect Multi-Tone Distortion</text><text x="345.6" y="256.2" text-anchor="middle" font-size="22" font-weight="bold" fill="#ff0000">from Wireless Connection</text><text x="351.0" y="418.1" text-anchor="middle" font-size="22" font-weight="bold" fill="#0055bb">Speaker Multi-Tone Distortion</text><g fill="#000" stroke="#000" stroke-width="0.3"><text transform="translate(378 26.1) scale(1 1.035)" text-anchor="middle" font-size="29.2">Sound Pressure Response of Bluetooth Audio</text><text transform="translate(378 61.5) scale(1 1.03)" text-anchor="middle" font-size="29.2">Device – Multi-Tone Stimulus</text></g></g>
</svg>
</body></html>
